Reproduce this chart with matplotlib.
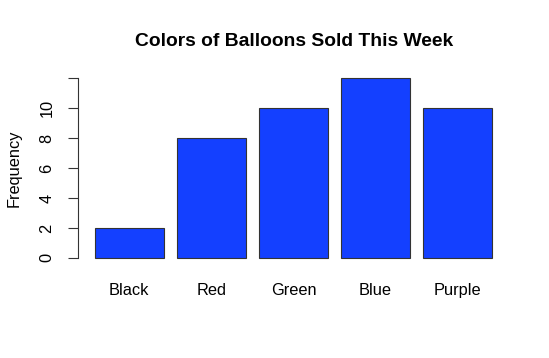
import matplotlib.pyplot as plt

plt.rcParams['font.family'] = ['Liberation Sans', 'DejaVu Sans']

# data
colors = ['Black', 'Red', 'Green', 'Blue', 'Purple']
counts = [2, 8, 10, 12, 10]

fig = plt.figure(figsize=(5.49, 3.58), dpi=100)
ax = fig.add_axes([78/549, 93/358, 431/549, 194/358])

# R-style barplot: width 1, space 0.2
pos = [0.7 + 1.2*i for i in range(len(colors))]
ax.bar(pos, counts, width=1.0, color='#1440ff', edgecolor='#333333', linewidth=0.8)

ax.set_xlim(-0.05, 6.25)
ax.set_ylim(-0.48, 12.48)

for s in ['top', 'right', 'bottom']:
    ax.spines[s].set_visible(False)
ax.spines['left'].set_bounds(0, 12)
ax.spines['left'].set_color('#333333')

ax.set_yticks(range(0, 13, 2))
ax.set_yticklabels(['0', '2', '4', '6', '8', '10', ''], rotation=90, va='center', fontsize=11.8)
ax.tick_params(axis='y', length=7, pad=10, color='#333333')

ax.set_xticks(pos)
ax.set_xticklabels(colors, fontsize=11.8)
ax.tick_params(axis='x', length=0, pad=13)

ax.set_ylabel('Frequency', fontsize=11.8, labelpad=13)
fig.text(294/549, 1 - 42/358, 'Colors of Balloons Sold This Week', ha='center', va='center',
         fontsize=13.9, fontweight='bold')

fig.savefig('out.png', dpi=100)
